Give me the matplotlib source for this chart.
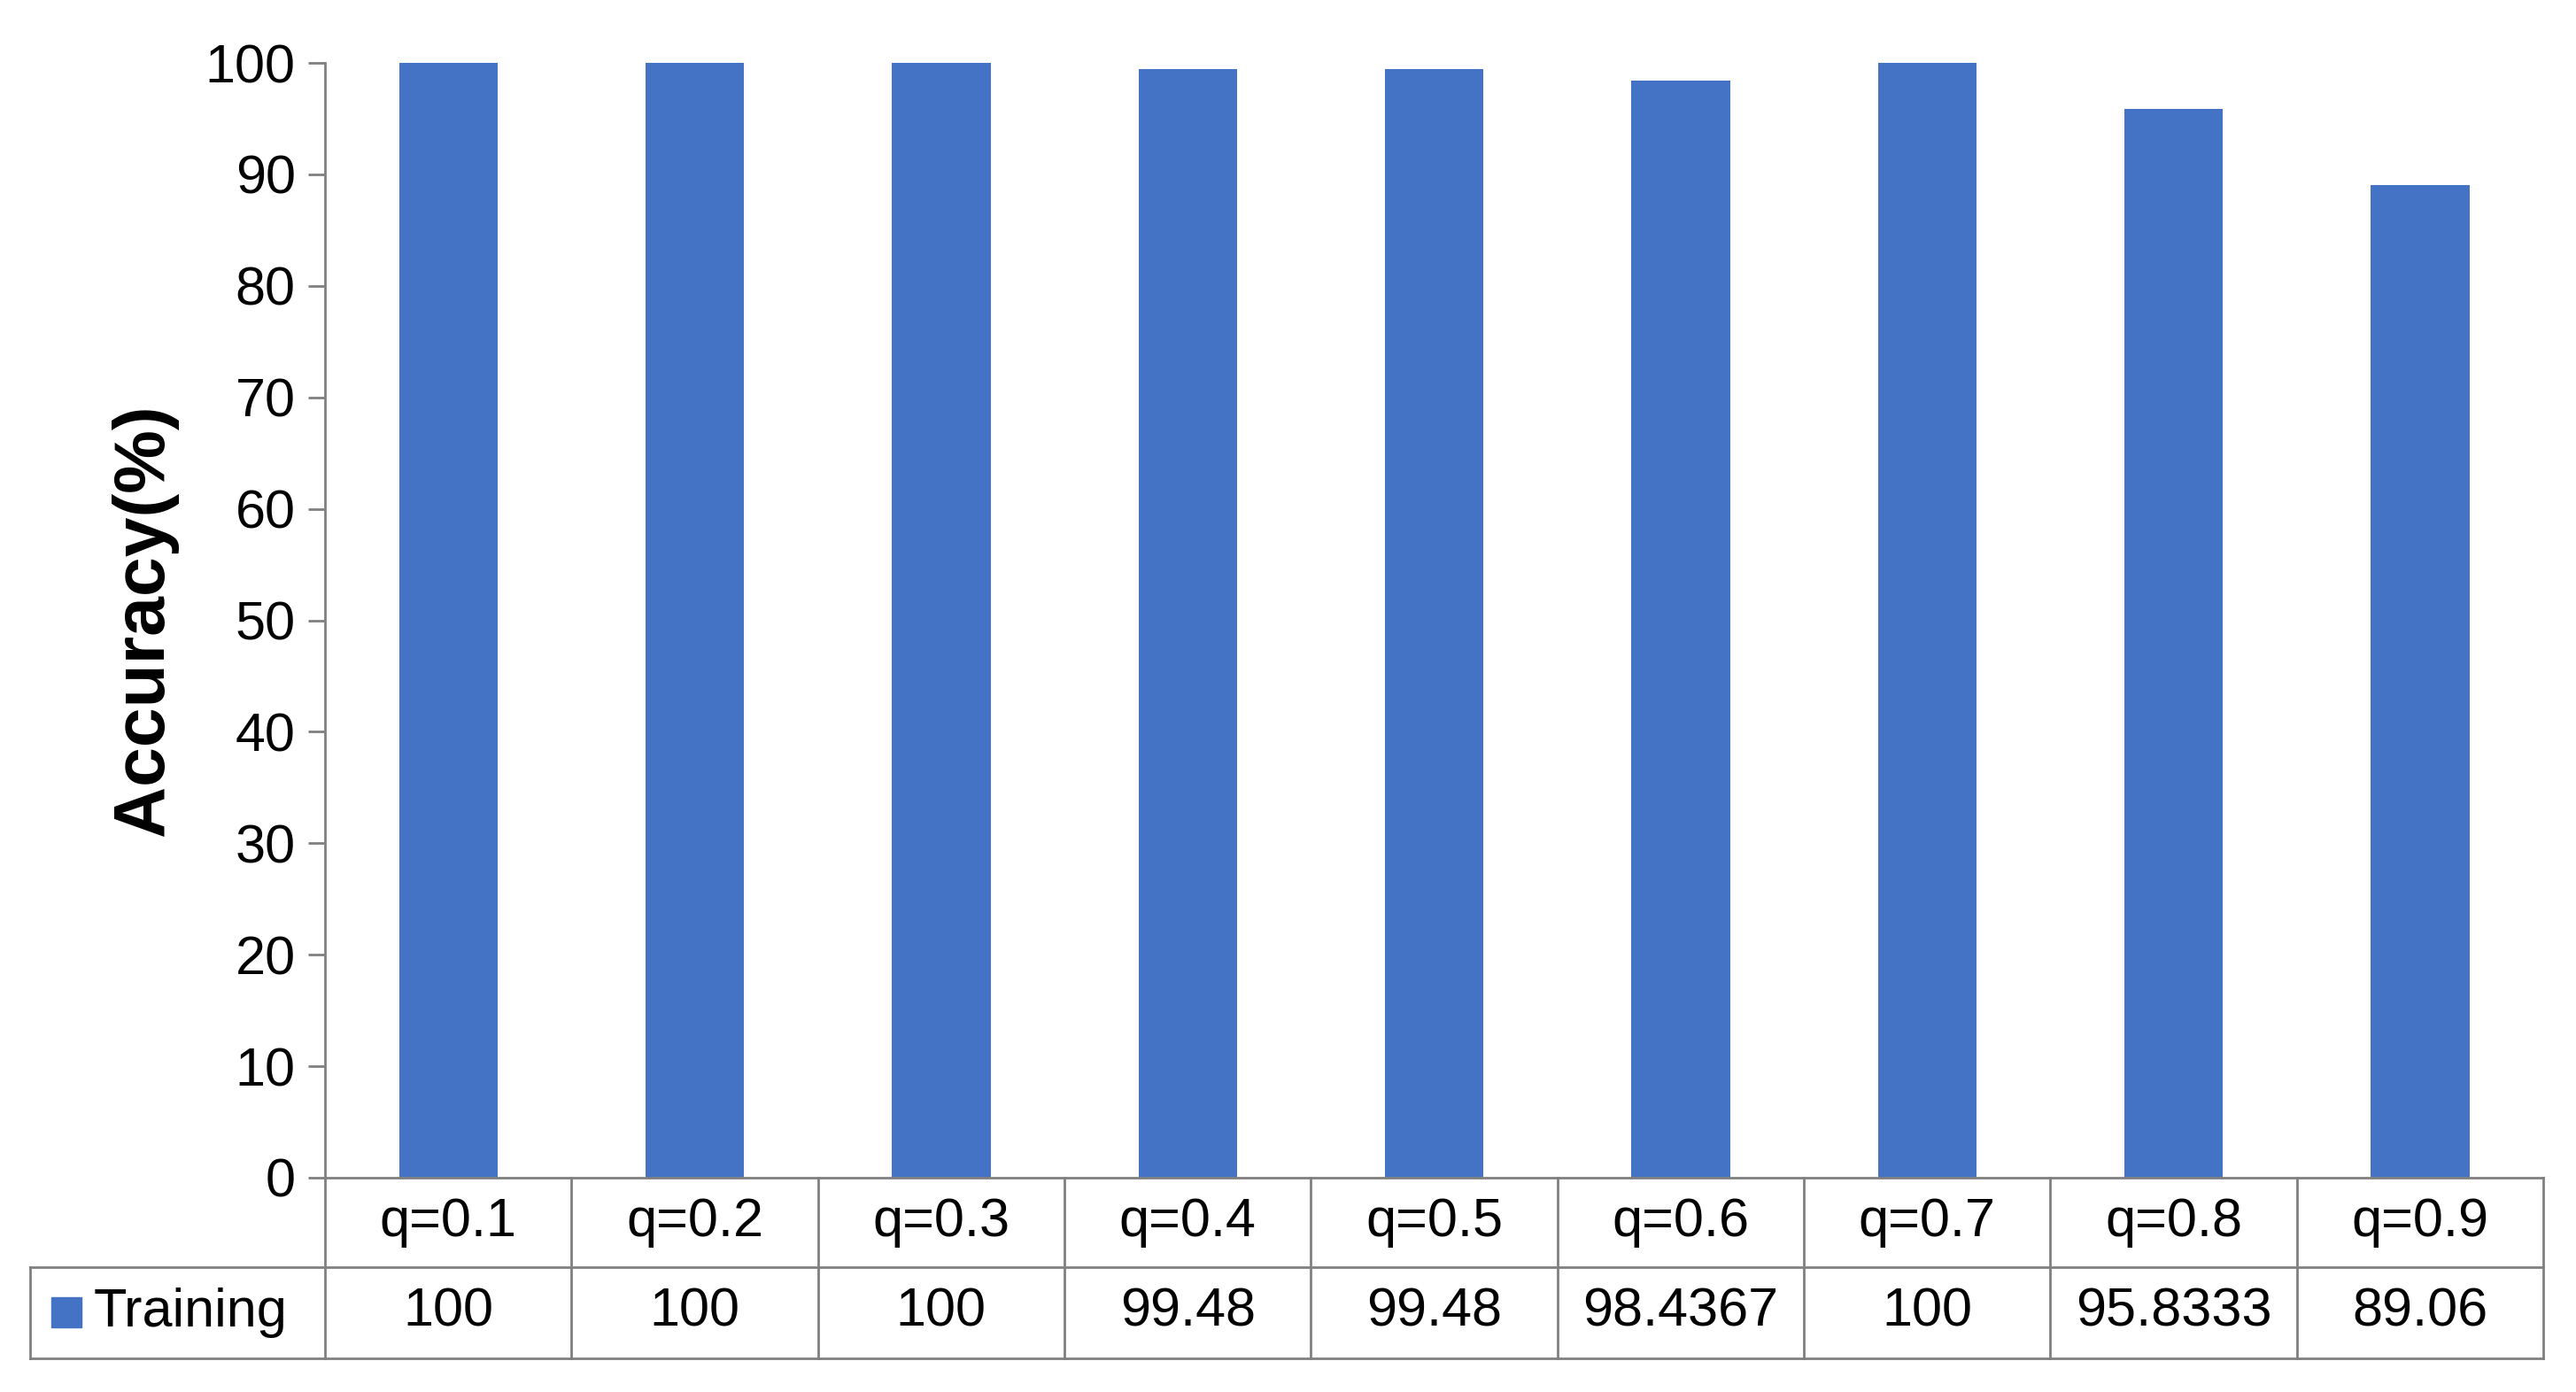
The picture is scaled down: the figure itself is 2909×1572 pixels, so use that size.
import matplotlib
matplotlib.use("Agg")
import matplotlib.pyplot as plt
from matplotlib.patches import Rectangle

categories = ["q=0.1","q=0.2","q=0.3","q=0.4","q=0.5","q=0.6","q=0.7","q=0.8","q=0.9"]
values = [100, 100, 100, 99.48, 99.48, 98.4367, 100, 95.8333, 89.06]
labels = ["100","100","100","99.48","99.48","98.4367","100","95.8333","89.06"]
series = "Training"
yticks = list(range(0, 101, 10))

plt.rcParams['font.family'] = ['Liberation Sans', 'DejaVu Sans']
W, H = 2909, 1572
fig = plt.figure(figsize=(W/100, H/100), dpi=100)
L, R, T, B = 367, 2872, 71, 1330
ax = fig.add_axes([L/W, 1-B/H, (R-L)/W, (B-T)/H])
color = "#4472C4"
gc = "#808080"
n = len(categories)
fs = 44
ax.bar([i+0.5 for i in range(n)], values, width=0.4, color=color)
ax.set_xlim(0, n)
ax.set_ylim(0, 100)
ax.set_yticks(yticks)
ax.tick_params(axis='y', labelsize=fs, length=14, width=2, color=gc, pad=10)
ax.set_xticks([])
for s in ['top', 'right']:
    ax.spines[s].set_visible(False)
for s in ['left', 'bottom']:
    ax.spines[s].set_color(gc); ax.spines[s].set_linewidth(2)
ax.set_ylabel("Accuracy(%)", fontsize=58, fontweight='bold', labelpad=22)

ah = B - T
r1 = 101/ah; r2 = 103/ah
tr = ax.get_xaxis_transform()
kw = dict(color=gc, lw=2, transform=tr, clip_on=False)
for i in range(n+1):
    ax.plot([i, i], [0, -(r1+r2)], **kw)
ax.plot([0, n], [-r1, -r1], **kw)
ax.plot([0, n], [-r1-r2, -r1-r2], **kw)
x0 = (34 - L) / (R - L) * n
ax.plot([x0, 0], [-r1, -r1], **kw)
ax.plot([x0, 0], [-r1-r2, -r1-r2], **kw)
ax.plot([x0, x0], [-r1, -r1-r2], **kw)
for i, (c, l) in enumerate(zip(categories, labels)):
    ax.text(i+0.5, -r1/2, c, ha='center', va='center', fontsize=fs, transform=tr)
    ax.text(i+0.5, -r1-r2/2, l, ha='center', va='center', fontsize=fs, transform=tr)
sq = 34/(R-L)*n
ax.add_patch(Rectangle((x0 + (24/(R-L))*n, -r1-r2/2-0.013), sq, 0.027, color=color, transform=tr, clip_on=False))
ax.text(x0 + (72/(R-L))*n, -r1-r2/2, series, ha='left', va='center', fontsize=fs, transform=tr)
fig.savefig("out.png", dpi=100)
